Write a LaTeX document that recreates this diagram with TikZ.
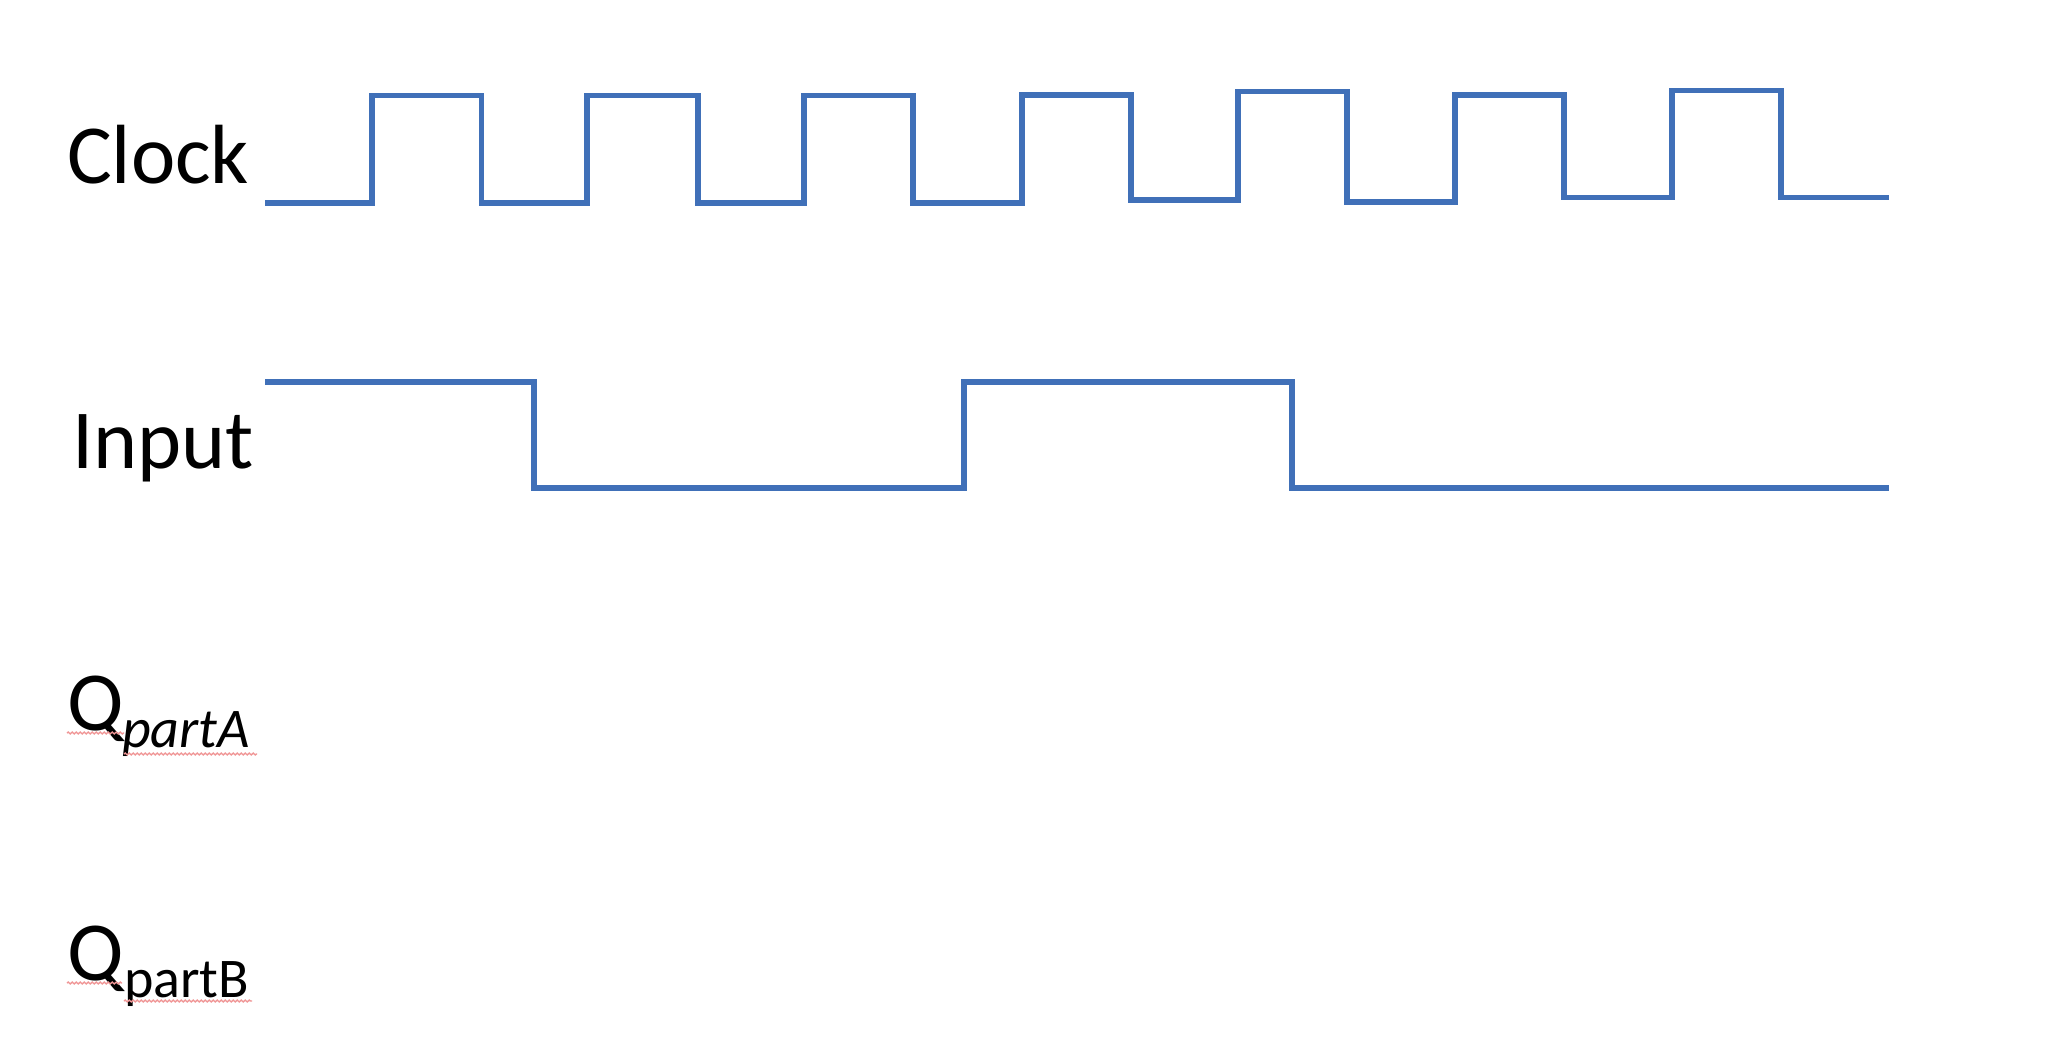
\documentclass[tikz,border=0pt]{standalone}
\usepackage{fontspec}
\setmainfont{Carlito}
\usetikzlibrary{decorations.pathmorphing}
\definecolor{wave}{RGB}{64,112,184}
\definecolor{spell}{RGB}{240,150,150}
\tikzset{
  signal/.style={draw=wave, line width=5.6pt, line join=miter},
  lbl/.style={inner sep=0pt, outer sep=0pt, anchor=base west, font=\fontsize{84}{84}\selectfont},
  sublbl/.style={inner sep=0pt, outer sep=0pt, anchor=base west, font=\fontsize{56}{56}\selectfont},
  squiggle/.style={draw=spell, line width=1.4pt, decorate, decoration={snake, amplitude=0.9pt, segment length=4pt}}
}
\begin{document}
\begin{tikzpicture}[x=1pt,y=-1pt]
\useasboundingbox[fill=white] (0,0) rectangle (2046,1046);
% labels
\node[lbl] (clk) at (67,183) {Clock};
\node[lbl] (inp) at (72,468) {Input};
\node[lbl] (qa) at (67,730) {Q};
\node[sublbl, font=\fontsize{56}{56}\selectfont\itshape] (qas) at (122,747) {partA};
\node[lbl] (qb) at (67,980) {Q};
\node[sublbl] (qbs) at (124,997) {partB};
% spell-check underlines
\draw[squiggle] (67,733) -- (124,733);
\draw[squiggle] (124,754) -- (257,754);
\draw[squiggle] (67,983) -- (122,983);
\draw[squiggle] (124,1001) -- (252,1001);
% clock waveform
\draw[signal] (265,203) -- (372,203) -- (372,95.5) -- (481.5,95.5) -- (481.5,203)
  -- (587,203) -- (587,95.5) -- (698,95.5) -- (698,203)
  -- (804,203) -- (804,95.5) -- (913,95.5) -- (913,203)
  -- (1022,203) -- (1022,95) -- (1131,95) -- (1131,200)
  -- (1238,200) -- (1238,91.5) -- (1347,91.5) -- (1347,202)
  -- (1455,202) -- (1455,95) -- (1564,95) -- (1564,197.5)
  -- (1672,197.5) -- (1672,90.7) -- (1781,90.7) -- (1781,197.5) -- (1889,197.5);
% input waveform
\draw[signal] (265,382) -- (534,382) -- (534,488) -- (964,488) -- (964,382)
  -- (1292,382) -- (1292,488) -- (1889,488);
\end{tikzpicture}
\end{document}
